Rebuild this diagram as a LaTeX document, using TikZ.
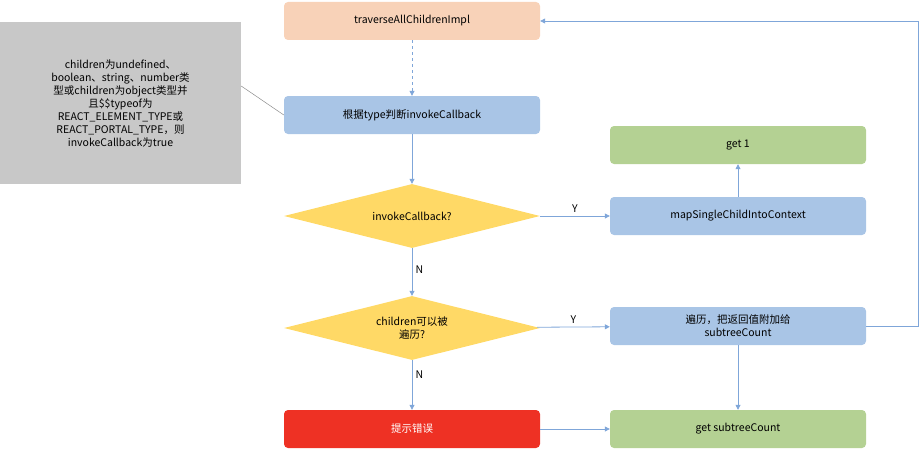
\documentclass[tikz,border=0pt]{standalone}
\usepackage{fontspec}
\setmainfont{Open Sans}
\newfontfamily\cjk{Noto Sans CJK SC}
\usetikzlibrary{shapes.geometric,arrows.meta}
\definecolor{peach}{HTML}{F8D2B8}
\definecolor{lblue}{HTML}{A9C5E6}
\definecolor{lgreen}{HTML}{B4D193}
\definecolor{dred}{HTML}{EE3124}
\definecolor{ygold}{HTML}{FFD966}
\definecolor{arr}{HTML}{7FA6D9}
\definecolor{gnote}{HTML}{C8C8C8}
\begin{document}
\begin{tikzpicture}[x=1pt,y=-1pt,font=\cjk\fontsize{10.5}{13}\selectfont,
 box/.style={draw=none,rounded corners=4pt,minimum width=256pt,minimum height=38pt,inner sep=1pt,align=center},
 dia/.style={diamond,aspect=4,fill=ygold,draw=none,minimum width=256pt,minimum height=64pt,inner sep=0pt,align=center},
 ar/.style={draw=arr,line width=0.8pt,-{Triangle[length=5pt,width=5pt]}},
 lab/.style={font=\cjk\fontsize{10.5}{13}\selectfont}]
\useasboundingbox (0,0) rectangle (920,452);
\node[box,fill=peach] (a) at (412,21) {traverseAllChildrenImpl};
\node[box,fill=lblue] (b) at (412,115) {根据type判断invokeCallback};
\node[dia] (c) at (412,216) {invokeCallback?};
\node[dia] (d) at (412,328) {children可以被\\遍历?};
\node[box,fill=dred,text=white] (e) at (412,429) {提示错误};
\node[box,fill=lgreen] (f) at (738,145) {get 1};
\node[box,fill=lblue] (g) at (738,216) {mapSingleChildIntoContext};
\node[box,fill=lblue] (h) at (738,326) {遍历，把返回值附加给\\subtreeCount};
\node[box,fill=lgreen] (i) at (738,429) {get subtreeCount};
\node[fill=gnote,minimum width=241pt,minimum height=162pt,align=center,inner sep=2pt] (n) at (120.5,103) {children为undefined、\\boolean、string、number类\\型或children为object类型并\\且\$\$typeof为\\REACT\_ELEMENT\_TYPE或\\REACT\_PORTAL\_TYPE，则\\invokeCallback为true};
\draw[gnote!70!black,line width=0.5pt] (n.east |- 0,86) -- (b.west);
\draw[ar,dashed] (a) -- (b);
\draw[ar] (b) -- (c);
\draw[ar] (c) -- node[lab,above,pos=0.5]{Y} (g);
\draw[ar] (g) -- (f);
\draw[ar] (c) -- node[lab,right,pos=0.45]{N} (d);
\draw[ar] (d) -- node[lab,above,pos=0.5]{Y} (h);
\draw[ar] (d) -- node[lab,right,pos=0.3]{N} (e);
\draw[ar] (e) -- (i);
\draw[ar] (h) -- (i);
\coordinate (r1) at (918,326);
\coordinate (r2) at (918,21);
\draw[ar] (h.east) -- (r1) -- (r2) -- (a.east);
\end{tikzpicture}
\end{document}
